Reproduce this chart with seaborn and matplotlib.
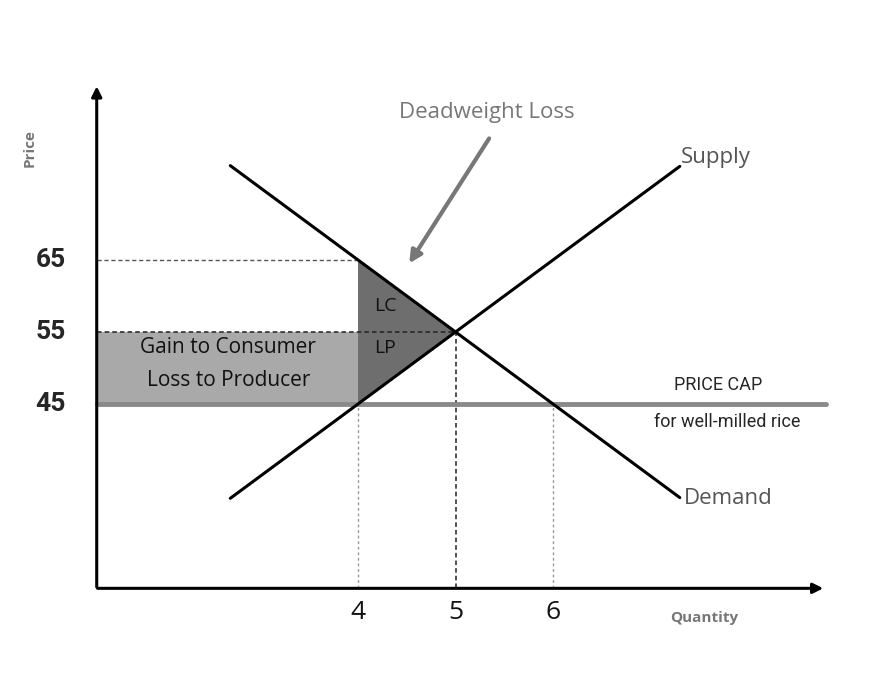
import matplotlib
matplotlib.use("Agg")
import matplotlib.pyplot as plt
import seaborn as sns
import pandas as pd
import numpy as np

sns.set_style("white")
plt.rcParams['font.family'] = ['Open Sans', 'DejaVu Sans']

# data
supply_q = [2.69, 7.30]
supply_p = [31.9, 78.0]
demand_q = [2.69, 7.30]
demand_p = [78.1, 32.0]
price_ticks = [65, 55, 45]
qty_ticks = [4, 5, 6]
cap_price = 45
eq_q, eq_p = 5, 55
cap_qd = 6
cap_qs = 4
price_at_qs = 65

fig = plt.figure(figsize=(8.82, 6.98), dpi=100)
ax = fig.add_axes([0, 0, 1, 1])
x0, x1 = 0.328, 9.374
y0, y1 = 4.17, 101.1
ax.set_xlim(x0, x1); ax.set_ylim(y0, y1); ax.axis("off")
ox, oy = 1.32, 19.4

# shaded regions
ax.add_patch(plt.Rectangle((ox, cap_price), cap_qs - ox, eq_p - cap_price, color="#a9a9a9", lw=0, zorder=1))
ax.fill([cap_qs, cap_qs, eq_q], [cap_price, price_at_qs, eq_p], color="#6e6e6e", lw=0, zorder=1)

# dashed guides
ax.plot([ox, cap_qs], [price_at_qs, price_at_qs], ls=(0, (3, 2)), color="#555", lw=1)
ax.plot([ox, eq_q], [eq_p, eq_p], ls=(0, (3, 2)), color="#222", lw=1.1)
ax.plot([eq_q, eq_q], [oy, eq_p], ls=(0, (3, 2)), color="#222", lw=1.1)
ax.plot([cap_qs, cap_qs], [oy, cap_price], ls=(0, (2, 2)), color="#999", lw=1)
ax.plot([cap_qd, cap_qd], [oy, cap_price], ls=(0, (2, 2)), color="#999", lw=1)

# price cap
ax.plot([ox, 8.8], [cap_price, cap_price], color="#8a8a8a", lw=3.5, zorder=2)

df = pd.concat([pd.DataFrame({"Q": supply_q, "P": supply_p, "c": "Supply"}),
                pd.DataFrame({"Q": demand_q, "P": demand_p, "c": "Demand"})])
sns.lineplot(data=df, x="Q", y="P", units="c", estimator=None, color="black", lw=2.2, ax=ax, legend=False, zorder=3)

# axes arrows
ax.annotate("", xy=(8.8, oy), xytext=(ox - 0.02, oy), arrowprops=dict(arrowstyle="-|>", color="black", lw=2.2, mutation_scale=15))
ax.annotate("", xy=(ox, 89.5), xytext=(ox, oy - 0.2), arrowprops=dict(arrowstyle="-|>", color="black", lw=2.2, mutation_scale=15))

for p in price_ticks:
    ax.text(0.85, p, str(p), fontsize=19, fontweight="bold", family="Liberation Sans Narrow" if False else "DejaVu Sans Condensed" if False else "Roboto", ha="center", va="center")
for q in qty_ticks:
    ax.text(q, oy - 3.3, str(q), fontsize=19, ha="center", va="center", color="#111")

ax.text(0.63, 80.5, "Price", rotation=90, fontsize=11, fontweight="bold", color="#777", ha="center", va="center")
ax.text(7.55, 15.3, "Quantity", fontsize=11, fontweight="bold", color="#777", ha="center", va="center")
ax.text(5.32, 85.5, "Deadweight Loss", fontsize=16, color="#777", ha="center", va="center")
ax.annotate("", xy=(4.51, 64.2), xytext=(5.36, 82.2), arrowprops=dict(arrowstyle="-|>", color="#777", lw=3, mutation_scale=18))
ax.text(7.67, 79.2, "Supply", fontsize=16, color="#555", ha="center", va="center")
ax.text(7.8, 31.9, "Demand", fontsize=16, color="#555", ha="center", va="center")
ax.text(4.28, 58.6, "LC", fontsize=14, color="#111", ha="center", va="center")
ax.text(4.28, 52.8, "LP", fontsize=14, color="#111", ha="center", va="center")
ax.text(2.67, 52.8, "Gain to Consumer", fontsize=15, color="#111", ha="center", va="center")
ax.text(2.67, 48.3, "Loss to Producer", fontsize=15, color="#111", ha="center", va="center")
ax.text(7.69, 47.6, "PRICE CAP", fontsize=13, family="Roboto", ha="center", va="center")
ax.text(7.79, 42.5, "for well-milled rice", fontsize=13, family="Roboto", ha="center", va="center")

fig.savefig("out.png", dpi=100, facecolor="white")
